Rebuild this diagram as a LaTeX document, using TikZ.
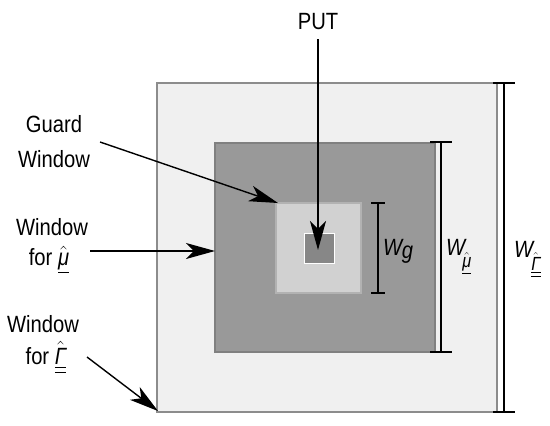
\documentclass[tikz,border=0pt]{standalone}
\usepackage{amsmath}
\usepackage{fontspec}
\setmainfont[FakeStretch=0.86]{Liberation Sans}
\usetikzlibrary{arrows.meta}
\newcommand{\mymu}{\text{\itshape μ}}
\newcommand{\mygam}{\text{\itshape Γ}}
\newcommand{\subsz}{\fontsize{19}{20}\selectfont}
\tikzset{
  lbl/.style={font=\fontsize{23.5}{30}\selectfont, inner sep=0pt, anchor=base},
  ptr/.style={line width=1.4pt, -{Stealth[length=29pt,width=16pt,inset=8pt]}},
  dim/.style={line width=1.8pt},
}
\begin{document}
\begin{tikzpicture}[x=1pt,y=-1pt]
\useasboundingbox (0,0) rectangle (550,426);
% windows
\node[draw=black!45, fill=black!6, line width=1.6pt, minimum width=340pt, minimum height=329pt, inner sep=0pt] (outer) at (327,247.5) {};
\node[draw=black!50, fill=black!40, line width=1.6pt, minimum width=220pt, minimum height=209pt, inner sep=0pt] (mid) at (325,247.5) {};
\node[draw=black!30, fill=black!18, line width=1.2pt, minimum width=85pt, minimum height=90pt, inner sep=0pt] (guard) at (318.5,248) {};
\node[draw=white, fill=black!47, line width=1.8pt, minimum width=30pt, minimum height=30pt, inner sep=0pt] (put) at (319.5,248.5) {};
% dimension bars
\coordinate (g1) at (378,203); \coordinate (g2) at (378,293);
\coordinate (m1) at (441,142); \coordinate (m2) at (441,352);
\coordinate (o1) at (504,83); \coordinate (o2) at (504,412);
\draw[dim] (g1) -- (g2) (371,203) -- (385,203) (371,293) -- (385,293);
\draw[dim] (m1) -- (m2) (430,142) -- (452,142) (430,352) -- (452,352);
\draw[dim] (o1) -- (o2) (493,83) -- (515,83) (493,412) -- (515,412);
\node[lbl, anchor=base west] (wg) at (383,255) {\itshape W\kern-0.5pt\raisebox{-3pt}{g}};
\node[lbl, anchor=base west] (wm) at (446,255) {\itshape W\kern-3pt\raisebox{-12pt}{\subsz$\underline{\hat{\mymu}}$}};
\node[lbl, anchor=base west] (wo) at (514,257) {\itshape W\kern-2pt\raisebox{-13pt}{\subsz$\underline{\underline{\hat{\mygam}}}$}};
% labels
\node[lbl] (putl) at (318,29) {PUT};
\node[lbl] (gw1) at (54,132) {Guard};
\node[lbl] (gw2) at (54,167) {Window};
\node[lbl] (wmu1) at (52,235) {Window};
\node[lbl] (wmu2) at (49,265) {for $\underline{\hat{\mymu}}$};
\node[lbl] (wgam1) at (43,332) {Window};
\node[lbl] (wgam2) at (46,364) {for $\underline{\underline{\hat{\mygam}}}$};
% arrows
\coordinate (a1) at (318,39);
\coordinate (a2) at (100,142);
\coordinate (a3) at (90,251);
\coordinate (a4) at (87,357);
\draw[ptr] (a1) -- (318,250);
\draw[ptr] (a2) -- (278,203);
\draw[ptr] (a3) -- (215,251);
\draw[ptr] (a4) -- (158,411);
\end{tikzpicture}
\end{document}
